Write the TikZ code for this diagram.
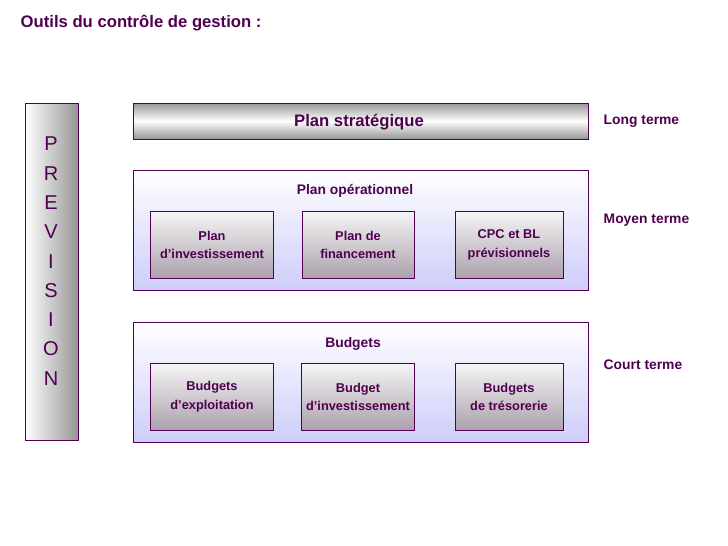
\documentclass[tikz,border=0pt]{standalone}
\usepackage{fontspec}
\setmainfont{Liberation Sans}
\definecolor{violet}{RGB}{80,0,80}
\definecolor{lavande}{RGB}{205,205,250}
\definecolor{gris}{RGB}{150,150,150}
\tikzset{
  cadre/.style={draw=violet, line width=0.6pt},
  argent/.style={cadre, top color=gris, bottom color=gris, middle color=white},
  souscadre/.style={cadre, top color=white!90!gris, bottom color=gris!80!violet!70,
    minimum width=#1, minimum height=50pt, align=center, font=\bfseries\fontsize{9.6}{14}\selectfont, text=violet},
  mauve/.style={cadre, top color=white, bottom color=lavande},
  etiquette/.style={font=\bfseries\fontsize{10.4}{12}\selectfont, text=violet},
  terme/.style={etiquette, anchor=west}
}
\begin{document}
\begin{tikzpicture}[x=0.75pt,y=-0.75pt]
  \useasboundingbox (0,0) rectangle (728,546);
  \node[anchor=west, font=\bfseries\fontsize{12.5}{14}\selectfont, text=violet] (titre) at (16,23) {Outils du contrôle de gestion :};
  % colonne prevision
  \shade[cadre, left color=white, right color=gris] (25,103) rectangle (78,440);
  \foreach \lettre [count=\i from 0] in {P,R,E,V,I,S,I,O,N}
    \node[text=violet, font=\fontsize{15}{16}\selectfont] (lettre\i) at (51,144+29.3*\i) {\lettre};
  % plan strategique
  \shade[argent] (133,103) rectangle (588,139);
  \node[font=\bfseries\fontsize{12.5}{14}\selectfont, text=violet] (strat) at (359,122) {Plan stratégique};
  % plan operationnel
  \shade[mauve] (133,170) rectangle (588,290);
  \node[etiquette] (oper) at (355,191) {Plan opérationnel};
  \node[souscadre=92pt] (invest) at (212,245) {Plan\\d'investissement};
  \node[souscadre=84pt] (financ) at (358,245) {Plan de\\financement};
  \node[souscadre=81pt] (cpc) at (509,245) {CPC et BL\\prévisionnels};
  % budgets
  \shade[mauve] (133,322) rectangle (588,442);
  \node[etiquette] (budg) at (353,344) {Budgets};
  \node[souscadre=92pt] (exploit) at (212,397) {Budgets\\d'exploitation};
  \node[souscadre=84pt] (binvest) at (358,397) {Budget\\d'investissement};
  \node[souscadre=81pt] (treso) at (509,397) {Budgets\\de trésorerie};
  % horizons
  \node[terme] (long) at (599,121) {Long terme};
  \node[terme] (moyen) at (599,220) {Moyen terme};
  \node[terme] (court) at (599,365) {Court terme};
\end{tikzpicture}
\end{document}
